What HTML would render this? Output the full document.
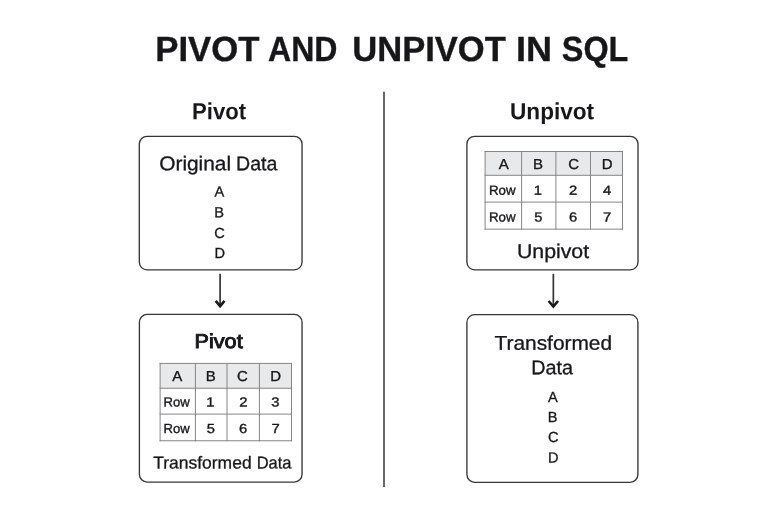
<!DOCTYPE html>
<html lang="en">
<head>
<meta charset="utf-8">
<title>Pivot and Unpivot in SQL</title>
<style>
html,body{margin:0;padding:0;background:#fff;}
body{width:768px;height:512px;overflow:hidden;}
svg{display:block;will-change:transform;filter:blur(0.35px);}
text{font-family:"Liberation Sans",Arial,Helvetica,sans-serif;fill:#17171a;text-rendering:geometricPrecision;}
.title{font-size:35.0px;font-weight:700;stroke:#17171a;stroke-width:0.35px;}
.h2{font-size:23.45px;font-weight:700;}
.h3{font-size:19.9px;stroke:#17171a;stroke-width:0.3px;}
.h3b{font-size:20.1px;stroke:#17171a;stroke-width:0.95px;}
.li{font-size:14.6px;stroke:#17171a;stroke-width:0.3px;}
.th{font-size:14.4px;stroke:#17171a;stroke-width:0.35px;}
.td{font-size:13.2px;stroke:#17171a;stroke-width:0.35px;}
.cap{font-size:17.3px;stroke:#17171a;stroke-width:0.3px;}
.box{fill:#fff;stroke:#363636;stroke-width:1.35;}
.grid{stroke:#858587;stroke-width:1;fill:none;stroke-linecap:square;}
.hd{fill:#e8e9eb;}
.shaft{stroke:#333;stroke-width:1.7;fill:none;}
.head{stroke:#1a1a1a;stroke-width:2.6;fill:none;stroke-linejoin:miter;stroke-miterlimit:10;}
.div{stroke:#585858;stroke-width:1.8;}
</style>
</head>
<body>
<svg width="768" height="512" viewBox="0 0 768 512">
<rect width="768" height="512" fill="#ffffff"/>
<g id="title">
<text class="title" transform="translate(155.27 61.05) rotate(0.03) scale(0.9921 1)">PIVOT</text>
<text class="title" transform="translate(268.06 61.05) rotate(0.03) scale(0.9147 1)">AND</text>
<text class="title" transform="translate(352.27 61.05) rotate(0.03) scale(0.9870 1)">UNPIVOT</text>
<text class="title" transform="translate(516.08 61.05) rotate(0.03) scale(1.0289 1)">IN</text>
<text class="title" transform="translate(561.81 61.05) rotate(0.03) scale(0.9247 1)">SQL</text>
</g>
<line class="div" x1="384" y1="91.8" x2="384" y2="486.9"/>
<g id="pivot">
<text class="h2" transform="translate(191.99 119.25) rotate(0.03) scale(0.9433 1)">Pivot</text>
<rect class="box" rx="7.8" x="139.3" y="136.3" width="162.75" height="133.60"/>
<text class="h3" transform="translate(159.21 170.30) rotate(0.03) scale(1.0487 1)">Original</text>
<text class="h3" transform="translate(236.01 170.30) rotate(0.03) scale(0.9842 1)">Data</text>
<text class="li" transform="translate(214.43 196.60) rotate(0.03) scale(1.0000 1)">A</text>
<text class="li" transform="translate(214.13 217.25) rotate(0.03) scale(1.0000 1)">B</text>
<text class="li" transform="translate(214.28 238.00) rotate(0.03) scale(1.0000 1)">C</text>
<text class="li" transform="translate(214.53 258.10) rotate(0.03) scale(1.0000 1)">D</text>
<path class="shaft" d="M220.1 273.8V306.10"/><path class="head" d="M215.70 300.80L220.1 306.10L224.50 300.80"/>
<rect class="box" rx="7.8" x="139.4" y="314.4" width="162.65" height="167.70"/>
<text class="h3b" transform="translate(194.56 348.05) rotate(0.03) scale(1.0770 1)">Pivot</text>
<rect class="hd" x="160.1" y="363.4" width="131.40" height="24.85"/>
<path class="grid" d="M160.1 363.4H291.5M160.1 388.25H291.5M160.1 414.1H291.5M160.1 440.75H291.5M160.1 363.4V440.75M195.4 363.4V440.75M227.0 363.4V440.75M259.4 363.4V440.75M291.5 363.4V440.75"/>
<text class="th" transform="translate(172.36 381.00) rotate(0.03) scale(1.0400 1)">A</text>
<text class="th" transform="translate(205.80 381.00) rotate(0.03) scale(1.0400 1)">B</text>
<text class="th" transform="translate(236.94 381.00) rotate(0.03) scale(1.0400 1)">C</text>
<text class="th" transform="translate(270.16 381.00) rotate(0.03) scale(1.0400 1)">D</text>
<text class="td" transform="translate(163.51 406.50) rotate(0.03) scale(0.9932 1)">Row</text>
<text class="td" transform="translate(163.51 432.90) rotate(0.03) scale(0.9932 1)">Row</text>
<text class="td" transform="translate(206.37 406.50) rotate(0.03) scale(1.1200 1)">1</text>
<text class="td" transform="translate(239.15 406.50) rotate(0.03) scale(1.1200 1)">2</text>
<text class="td" transform="translate(271.36 406.50) rotate(0.03) scale(1.1200 1)">3</text>
<text class="td" transform="translate(206.86 432.90) rotate(0.03) scale(1.1200 1)">5</text>
<text class="td" transform="translate(239.01 432.90) rotate(0.03) scale(1.1200 1)">6</text>
<text class="td" transform="translate(271.55 432.90) rotate(0.03) scale(1.1200 1)">7</text>
<text class="cap" transform="translate(153.25 468.50) rotate(0.03) scale(1.0105 1)">Transformed</text>
<text class="cap" transform="translate(256.71 468.50) rotate(0.03) scale(0.9527 1)">Data</text>
</g>
<g id="unpivot">
<text class="h2" transform="translate(510.05 119.30) rotate(0.03) scale(0.9636 1)">Unpivot</text>
<rect class="box" rx="7.8" x="466.9" y="136.3" width="171.10" height="133.60"/>
<rect class="hd" x="485.1" y="151.5" width="137.40" height="23.80"/>
<path class="grid" d="M485.1 151.5H622.5M485.1 175.3H622.5M485.1 202.1H622.5M485.1 229.15H622.5M485.1 151.5V229.15M521.6 151.5V229.15M555.9 151.5V229.15M590.5 151.5V229.15M622.5 151.5V229.15"/>
<text class="th" transform="translate(498.76 169.00) rotate(0.03) scale(1.0400 1)">A</text>
<text class="th" transform="translate(533.00 169.00) rotate(0.03) scale(1.0400 1)">B</text>
<text class="th" transform="translate(568.14 169.00) rotate(0.03) scale(1.0400 1)">C</text>
<text class="th" transform="translate(601.68 169.00) rotate(0.03) scale(1.0400 1)">D</text>
<text class="td" transform="translate(488.90 194.70) rotate(0.03) scale(1.0070 1)">Row</text>
<text class="td" transform="translate(488.90 221.40) rotate(0.03) scale(1.0070 1)">Row</text>
<text class="td" transform="translate(533.87 194.70) rotate(0.03) scale(1.1200 1)">1</text>
<text class="td" transform="translate(569.10 194.70) rotate(0.03) scale(1.1200 1)">2</text>
<text class="td" transform="translate(602.95 194.70) rotate(0.03) scale(1.1200 1)">4</text>
<text class="td" transform="translate(534.31 221.40) rotate(0.03) scale(1.1200 1)">5</text>
<text class="td" transform="translate(568.96 221.40) rotate(0.03) scale(1.1200 1)">6</text>
<text class="td" transform="translate(602.95 221.40) rotate(0.03) scale(1.1200 1)">7</text>
<text class="h3" transform="translate(516.90 258.00) rotate(0.03) scale(1.0710 1)">Unpivot</text>
<path class="shaft" d="M553.35 273.9V306.60"/><path class="head" d="M548.65 301.00L553.35 306.60L558.05 301.00"/>
<rect class="box" rx="7.8" x="466.9" y="314.6" width="171.00" height="167.70"/>
<text class="h3" transform="translate(494.44 349.75) rotate(0.03) scale(1.0506 1)">Transformed</text>
<text class="h3" transform="translate(531.21 374.25) rotate(0.03) scale(0.9952 1)">Data</text>
<text class="li" transform="translate(548.06 402.10) rotate(0.03) scale(1.0000 1)">A</text>
<text class="li" transform="translate(547.78 421.90) rotate(0.03) scale(1.0000 1)">B</text>
<text class="li" transform="translate(547.92 442.00) rotate(0.03) scale(1.0000 1)">C</text>
<text class="li" transform="translate(547.91 462.40) rotate(0.03) scale(1.0000 1)">D</text>
</g>
</svg>
</body>
</html>
